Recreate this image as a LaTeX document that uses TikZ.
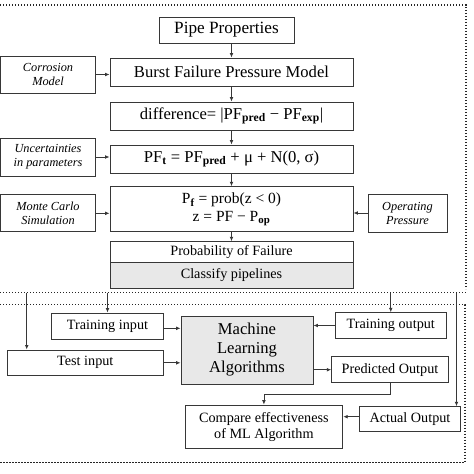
\documentclass[tikz,border=0pt]{standalone}
\usepackage{fontspec}
\setmainfont{Liberation Serif}
\usetikzlibrary{arrows.meta}

\definecolor{linegray}{RGB}{55,55,55}
\definecolor{boxfill}{RGB}{232,232,232}

\tikzset{
  box/.style={draw=linegray, line width=0.9pt, inner sep=0pt, align=center, text=black},
  sidebox/.style={box, font=\fontsize{12.3}{14}\selectfont\itshape},
  mainbox/.style={box, font=\fontsize{16.6}{18}\selectfont},
  smallbox/.style={box, font=\fontsize{14.2}{16}\selectfont},
  arr/.style={draw=linegray, line width=0.8pt, -{Latex[length=4.5pt,width=3.8pt]}},
  frame/.style={draw=black!85, line width=1.5pt, dash pattern=on 1.4pt off 1.6pt}
}

\begin{document}
\begin{tikzpicture}[x=1pt, y=-1pt]
    \useasboundingbox (0,0) rectangle (474,474);

    % Frames
    \draw[frame] (0,5) -- (466,5) -- (466,289);
    \draw[frame] (0,292.5) -- (466,292.5);
    \draw[frame] (0,304.5) -- (465,304.5) -- (465,462.3) -- (0,462.3);

    % Reliability part
    \node[mainbox, font=\fontsize{17.2}{18}\selectfont, minimum width=135pt, minimum height=26pt] (pipe) at (226.5,30) {Pipe Properties};
    \node[mainbox, minimum width=243pt, minimum height=28pt] (burst) at (231.5,72) {Burst Failure Pressure Model};
    \node[mainbox, minimum width=243pt, minimum height=28pt] (diff) at (231.5,116)
        {difference= |PF\textsubscript{\textbf{pred}} − PF\textsubscript{\textbf{exp}}|};
    \node[mainbox, minimum width=243pt, minimum height=28pt] (pft) at (231.5,159)
        {PF\textsubscript{\textbf{t}} = PF\textsubscript{\textbf{pred}} + μ + N(0, σ)};
    \node[box, font=\fontsize{15.5}{18}\selectfont, minimum width=243pt, minimum height=45pt] (pf) at (231.5,209.2)
        {P\textsubscript{\textbf{f}} = prob(z < 0)\\z = PF − P\textsubscript{\textbf{op}}};
    \node[smallbox, minimum width=243pt, minimum height=21pt] (prob) at (231.5,252.2) {Probability of Failure};
    \node[smallbox, fill=boxfill, minimum width=243pt, minimum height=25.6pt] (classify) at (231.5,275.5) {Classify pipelines};

    % Inputs
    \node[sidebox, minimum width=95pt, minimum height=37pt] (corr) at (48,74.5) {Corrosion\\Model};
    \node[sidebox, minimum width=95pt, minimum height=38pt] (unc) at (48,157) {Uncertainties\\in parameters};
    \node[sidebox, minimum width=95pt, minimum height=37pt] (mc) at (48,213.3) {Monte Carlo\\Simulation};
    \node[sidebox, minimum width=79pt, minimum height=38pt] (op) at (407.5,213) {Operating\\Pressure};

    \draw[arr] (pipe.south -| burst.north) -- (burst.north);
    \draw[arr] (burst) -- (diff);
    \draw[arr] (diff) -- (pft);
    \draw[arr] (pft) -- (pf);
    \draw[arr] (pf) -- (prob);
    \draw[arr] (corr.east) -- (corr.east -| burst.west);
    \draw[arr] (unc.east) -- (unc.east -| pft.west);
    \draw[arr] (mc.east) -- (mc.east -| pf.west);
    \draw[arr] (op.west) -- (op.west -| pf.east);

    % ML part
    \node[smallbox, minimum width=111.6pt, minimum height=26pt] (trin) at (107.5,326) {Training input};
    \node[smallbox, minimum width=156pt, minimum height=25.7pt] (test) at (85.3,362.8) {Test input};
    \node[box, fill=boxfill, font=\fontsize{16.6}{19}\selectfont, minimum width=132pt, minimum height=68pt] (ml) at (247,350)
        {Machine\\Learning\\Algorithms};
    \node[smallbox, minimum width=111.7pt, minimum height=25.6pt] (trout) at (390.8,325.5) {Training output};
    \node[smallbox, minimum width=116.6pt, minimum height=26pt] (pred) at (390,369.7) {Predicted Output};
    \node[smallbox, minimum width=157.7pt, minimum height=43.3pt] (comp) at (263.9,426.7) {Compare effectiveness\\of ML Algorithm};
    \node[smallbox, minimum width=101.4pt, minimum height=25pt] (act) at (410,419.2) {Actual Output};

    % Data split
    \coordinate (s1) at (26.7,292.5);
    \coordinate (s2) at (107.5,292.5);
    \coordinate (s3) at (390.8,292.5);
    \coordinate (s4) at (456.5,292.5);
    \draw[arr] (s1) -- (s1 |- test.north);
    \draw[arr] (s2) -- (trin.north);
    \draw[arr] (s3) -- (trout.north);
    \draw[arr] (s4) -- (s4 |- act.north);

    \draw[arr] (trin.east |- 0,328.3) -- (ml.west |- 0,328.3);
    \draw[arr] (test.east) -- (test.east -| ml.west);
    \draw[arr] (trout.west) -- (trout.west -| ml.east);
    \draw[arr] (ml.east |- pred.west) -- (pred.west);
    \draw[arr] (pred.south) -- ++(0,11.3) -| (comp.north);
    \draw[arr] (act.west |- 0,416.7) -- (comp.east |- 0,416.7);
\end{tikzpicture}
\end{document}
